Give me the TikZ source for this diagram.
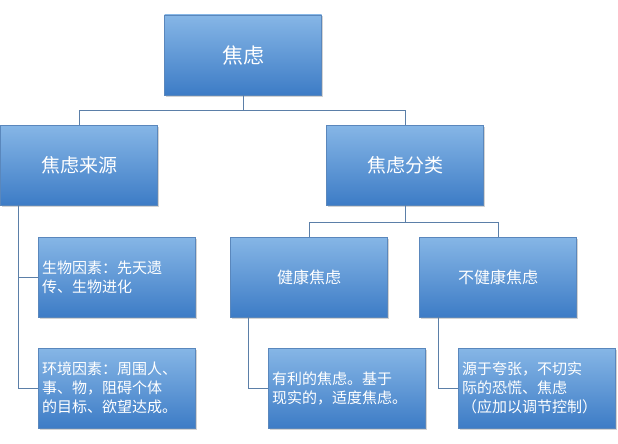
\documentclass[tikz,border=0pt]{standalone}
\usepackage{fontspec}
\setmainfont{Noto Sans CJK SC}
\usetikzlibrary{positioning,shadows}
\definecolor{boxtop}{HTML}{86B6E6}
\definecolor{boxbot}{HTML}{3D7CC6}
\definecolor{boxline}{HTML}{5A87BC}
\definecolor{wire}{HTML}{5B7FA8}
\tikzset{
  topic/.style={draw=boxline, top color=boxtop, bottom color=boxbot,
    text=white, minimum width=157pt, minimum height=80pt,
    drop shadow={opacity=0.35,shadow xshift=1.5pt,shadow yshift=-1.5pt}},
  bigtopic/.style={topic, font=\fontsize{21}{24}\selectfont},
  midtopic/.style={topic, font=\fontsize{19}{22}\selectfont},
  leaf/.style={topic, font=\fontsize{15}{19}\selectfont, text width=150pt, align=left, inner xsep=3pt},
  wire/.style={draw=wire, line width=1pt}
}
\begin{document}
\begin{tikzpicture}[x=1pt,y=-1pt]
\useasboundingbox (0,0) rectangle (618,444);
\node[bigtopic] (root) at (243,55) {焦虑};
\node[midtopic] (src) at (79,165) {焦虑来源};
\node[midtopic] (kind) at (405,165) {焦虑分类};
\node[leaf] (bio) at (117,277) {生物因素：先天遗\\传、生物进化};
\node[leaf] (env) at (117,388) {环境因素：周围人、\\事、物，阻碍个体\\的目标、欲望达成。};
\node[midtopic, font=\fontsize{16}{19}\selectfont] (good) at (309,277) {健康焦虑};
\node[midtopic, font=\fontsize{16}{19}\selectfont] (bad) at (498,277) {不健康焦虑};
\node[leaf] (goodtxt) at (347,388) {有利的焦虑。基于\\现实的，适度焦虑。};
\node[leaf] (badtxt) at (537,388) {源于夸张，不切实\\际的恐慌、焦虑\\（应加以调节控制）};

\draw[wire] (root.south) -- ++(0,15) -| (src.north);
\draw[wire] (root.south) -- ++(0,15) -| (kind.north);
\draw[wire] (kind.south) -- ++(0,17) -| (good.north);
\draw[wire] (kind.south) -- ++(0,17) -| (bad.north);
\draw[wire] ([xshift=-61pt]src.south) |- (bio.west);
\draw[wire] ([xshift=-61pt]src.south) |- (env.west);
\draw[wire] ([xshift=-61pt]good.south) |- (goodtxt.west);
\draw[wire] ([xshift=-60pt]bad.south) |- (badtxt.west);
\end{tikzpicture}
\end{document}
